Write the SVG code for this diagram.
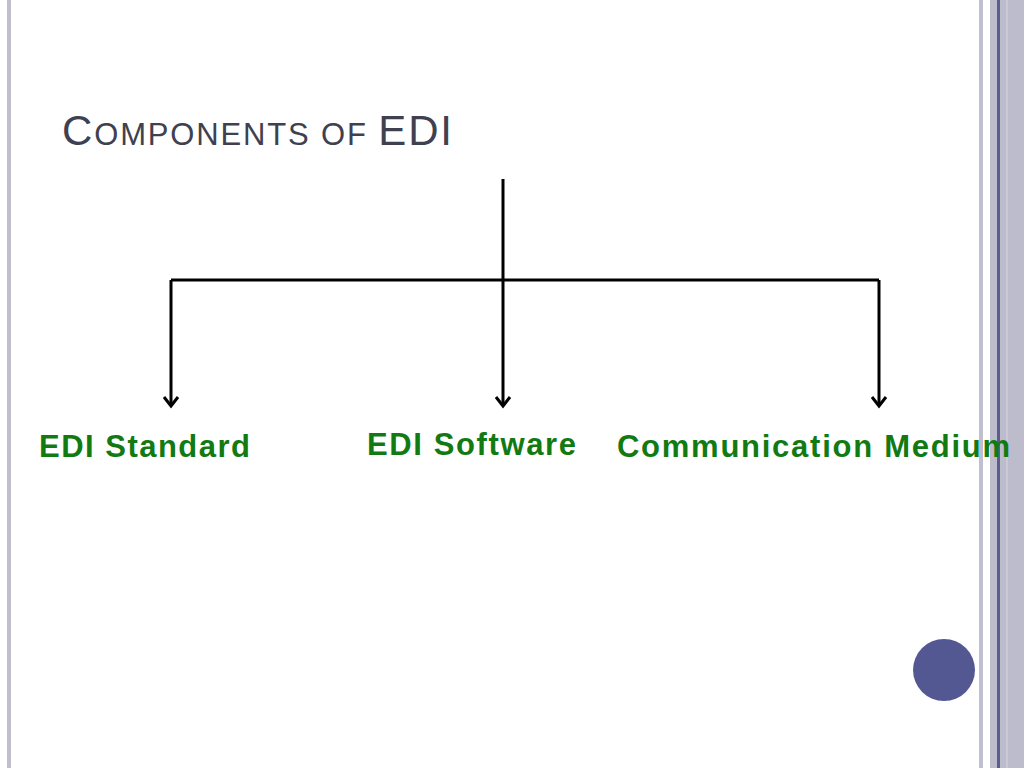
<svg xmlns="http://www.w3.org/2000/svg" width="1024" height="768" viewBox="0 0 1024 768">
<style>
.lbl{font-family:"Liberation Sans",Arial,sans-serif;font-weight:bold;font-size:31px;fill:#127a12}
.ln{stroke:#000;stroke-width:3;fill:none}
</style>
<rect width="1024" height="768" fill="#fff"/>
<rect x="7" y="0" width="4" height="768" fill="#c0bfcf"/>
<rect x="979" y="0" width="4" height="768" fill="#c0bfcf"/>
<rect x="990" y="0" width="34" height="768" fill="#bdbccc"/>
<rect x="997" y="0" width="3" height="768" fill="#5c5d8c"/>
<rect x="1006" y="0" width="2" height="768" fill="#cac9d6"/>
<text x="62" y="145" font-family="'Liberation Sans',Arial,sans-serif" font-size="42" fill="#3f4150" textLength="390" lengthAdjust="spacing">C<tspan font-size="31">OMPONENTS OF </tspan>EDI</text>
<g id="connectors">
<path class="ln" d="M503,179 V406"/>
<path class="ln" d="M171,280 H879"/>
<path class="ln" d="M171,280 V406"/>
<path class="ln" d="M879,280 V406"/>
<path class="ln" d="M164,397 L171,406 L178,397 M496,397 L503,406 L510,397 M872,397 L879,406 L886,397"/>
</g>
<g id="n1"><text class="lbl" x="39" y="457" textLength="211">EDI Standard</text></g>
<g id="n2"><text class="lbl" x="367" y="455" textLength="209">EDI Software</text></g>
<g id="n3"><text class="lbl" x="617" y="457" textLength="393">Communication Medium</text></g>
<circle cx="944" cy="670" r="31" fill="#545892"/>
</svg>
